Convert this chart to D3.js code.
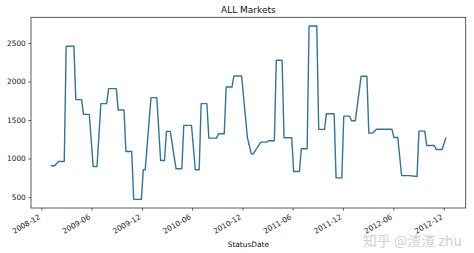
<!DOCTYPE html>
<html>
<head>
<meta charset="utf-8">
<script src="https://cdn.jsdelivr.net/npm/d3@7"></script>
<style>
  html, body { margin: 0; padding: 0; background: #fff; }
  svg { display: block; }
</style>
</head>
<body>
<svg id="chart" width="474" height="253"></svg>
<script>
// ---- data ----
const dates = [
  "2009-01-04","2009-01-18","2009-02-01","2009-02-22","2009-03-01","2009-03-29",
  "2009-04-05","2009-04-26","2009-05-03","2009-05-24","2009-06-07","2009-06-21",
  "2009-07-05","2009-07-26","2009-08-02","2009-08-30","2009-09-06","2009-09-27",
  "2009-10-04","2009-10-25","2009-11-01","2009-11-29","2009-12-06","2009-12-13",
  "2010-01-03","2010-01-24","2010-02-07","2010-02-21","2010-02-28","2010-03-14",
  "2010-04-04","2010-04-25","2010-05-02","2010-05-30","2010-06-13","2010-06-27",
  "2010-07-04","2010-07-25","2010-08-01","2010-08-29","2010-09-05","2010-09-26",
  "2010-10-03","2010-10-24","2010-10-31","2010-11-28","2010-12-19","2011-01-02",
  "2011-01-09","2011-02-06","2011-02-27","2011-03-06","2011-03-27","2011-04-03",
  "2011-04-24","2011-05-01","2011-05-29","2011-06-05","2011-06-26","2011-07-03",
  "2011-07-24","2011-07-31","2011-08-28","2011-09-04","2011-09-25","2011-10-02",
  "2011-10-30","2011-11-06","2011-11-27","2011-12-04","2011-12-25","2012-01-01",
  "2012-01-15","2012-02-05","2012-02-26","2012-03-04","2012-03-18","2012-04-01",
  "2012-05-27","2012-06-03","2012-06-17","2012-07-01","2012-07-29","2012-08-26",
  "2012-09-02","2012-09-23","2012-09-30","2012-10-28","2012-11-04","2012-11-25",
  "2012-12-09"
];
const values = [
  906, 906, 962, 962, 2457, 2457,
  1764, 1764, 1573, 1573, 897, 897,
  1712, 1712, 1907, 1907, 1629, 1629,
  1092, 1092, 471, 471, 854, 854,
  1790, 1790, 975, 975, 1352, 1352,
  867, 867, 1430, 1430, 854, 854,
  1712, 1712, 1265, 1265, 1322, 1322,
  1928, 1928, 2071, 2071, 1275, 1062,
  1062, 1213, 1213, 1231, 1231, 2275,
  2275, 1270, 1270, 832, 832, 1127,
  1127, 2720, 2720, 1378, 1378, 1582,
  1582, 750, 750, 1551, 1551, 1491,
  1491, 2067, 2067, 1330, 1330, 1380,
  1380, 1274, 1274, 780, 778, 768,
  1356, 1356, 1170, 1170, 1118, 1118,
  1274
];
const xTickLabels = ["2008-12","2009-06","2009-12","2010-06","2010-12","2011-06","2011-12","2012-06","2012-12"];
const yTickValues = [500, 1000, 1500, 2000, 2500];
const titleText = "ALL Markets";
const xLabelText = "StatusDate";
const watermarkText = "知乎 @渣渣 zhu";

// ---- layout ----
const W = 474, H = 253;
const plot = { left: 31, right: 465.7, top: 17.3, bottom: 208 };
const FONT = "'DejaVu Sans', sans-serif";
const lineColor = "#3274a0";

const parseDay = d3.timeParse("%Y-%m-%d");
const parseMonth = d3.timeParse("%Y-%m");
const data = dates.map((d, i) => ({ date: parseDay(d), value: values[i] }));

const svg = d3.select("#chart");

// matplotlib-like 5% margins
const xExt = d3.extent(data, d => d.date);
const xSpan = xExt[1] - xExt[0];
const yExt = d3.extent(data, d => d.value);
const ySpan = yExt[1] - yExt[0];

const x = d3.scaleTime()
  .domain([new Date(+xExt[0] - 0.05 * xSpan), new Date(+xExt[1] + 0.05 * xSpan)])
  .range([plot.left, plot.right]);
const y = d3.scaleLinear()
  .domain([yExt[0] - 0.05 * ySpan, yExt[1] + 0.05 * ySpan])
  .range([plot.bottom, plot.top]);

// line
const line = d3.line().x(d => x(d.date)).y(d => y(d.value));
svg.append("path")
  .datum(data)
  .attr("d", line)
  .attr("fill", "none")
  .attr("stroke", lineColor)
  .attr("stroke-width", 1.4)
  .attr("stroke-linejoin", "round");

// axes
const xTicks = xTickLabels.map(parseMonth);
const xAxis = d3.axisBottom(x)
  .tickValues(xTicks)
  .tickFormat(d3.timeFormat("%Y-%m"))
  .tickSize(2.6).tickPadding(2.6);
const gx = svg.append("g")
  .attr("transform", `translate(0,${plot.bottom})`)
  .call(xAxis);
gx.select(".domain").remove();
gx.selectAll(".tick line").attr("stroke", "#333").attr("stroke-width", 0.8);
gx.selectAll(".tick text")
  .attr("font-family", FONT)
  .attr("font-size", 7.4)
  .attr("fill", "#222")
  .attr("text-anchor", "end")
  .attr("dy", null)
  .attr("y", 0)
  .attr("transform", "translate(-1,10.5) rotate(-30)");

const yAxis = d3.axisLeft(y)
  .tickValues(yTickValues)
  .tickFormat(d3.format("d"))
  .tickSize(2.6).tickPadding(2.6);
const gy = svg.append("g")
  .attr("transform", `translate(${plot.left},0)`)
  .call(yAxis);
gy.select(".domain").remove();
gy.selectAll(".tick line").attr("stroke", "#333").attr("stroke-width", 0.8);
gy.selectAll(".tick text")
  .attr("font-family", FONT)
  .attr("font-size", 7.4)
  .attr("fill", "#222");

// frame (spines)
svg.append("rect")
  .attr("x", plot.left).attr("y", plot.top)
  .attr("width", plot.right - plot.left)
  .attr("height", plot.bottom - plot.top)
  .attr("fill", "none")
  .attr("stroke", "#333")
  .attr("stroke-width", 0.8);

// title
svg.append("text")
  .attr("x", (plot.left + plot.right) / 2)
  .attr("y", 13)
  .attr("text-anchor", "middle")
  .attr("font-family", FONT)
  .attr("font-size", 9)
  .attr("fill", "#111")
  .text(titleText);

// x label
svg.append("text")
  .attr("x", (plot.left + plot.right) / 2)
  .attr("y", 246.5)
  .attr("text-anchor", "middle")
  .attr("font-family", FONT)
  .attr("font-size", 7.4)
  .attr("fill", "#111")
  .text(xLabelText);

// watermark
svg.append("text")
  .attr("x", 462)
  .attr("y", 245.5)
  .attr("text-anchor", "end")
  .attr("font-family", "'Noto Sans CJK SC', sans-serif")
  .attr("font-size", 14)
  .attr("fill", "#c8c8c8")
  .attr("fill-opacity", 0.85)
  .text(watermarkText);
</script>
</body>
</html>
